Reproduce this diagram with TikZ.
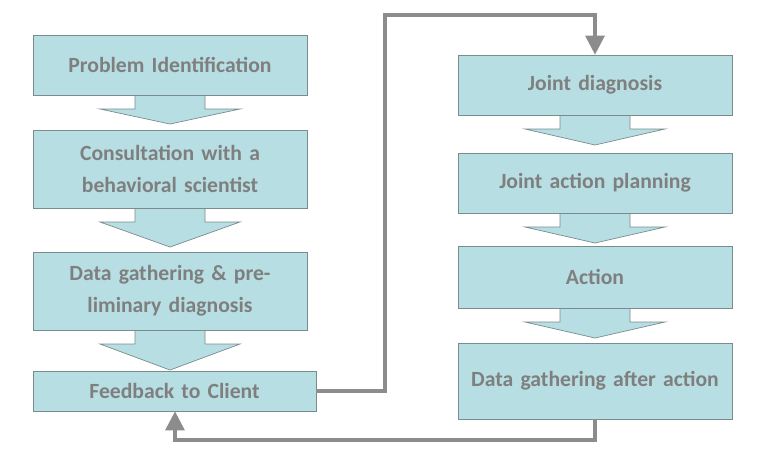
\documentclass[tikz,border=0pt]{standalone}
\usepackage{fontspec}
\setmainfont{Carlito}
\usetikzlibrary{positioning,calc}
\definecolor{boxfill}{HTML}{B7DEE2}
\definecolor{boxline}{HTML}{7A8C8E}
\definecolor{txtgray}{HTML}{7F7F7F}
\definecolor{linkgray}{HTML}{8C8C8C}
\begin{document}
\begin{tikzpicture}[x=0.03cm, y=-0.03cm,
	stage/.style={draw=boxline, fill=boxfill, line width=0.8pt, minimum width=274*0.03cm,
		text width=250*0.03cm, align=center, inner sep=0pt,
		font=\fontsize{18.5}{27}\selectfont\bfseries, text=txtgray},
	link/.style={draw=linkgray, line width=4pt},
	linkhead/.style={fill=linkgray}]
	\useasboundingbox (0,0) rectangle (768,462);

	% ---------------------
	% Chevrons (drawn first, boxes cover their ends)
	\foreach \xc/\yt/\ytip in {170/95/124, 170/208/247, 170/330/370,
	                           595/115/145, 595/213/243, 595/308/338}{
		\filldraw[boxfill, draw=boxline, line width=0.6pt]
			(\xc-35,\yt-2) -- (\xc-35,\yt+14) -- (\xc-70,\yt+14) -- (\xc,\ytip)
			-- (\xc+70,\yt+14) -- (\xc+35,\yt+14) -- (\xc+35,\yt-2);
	}

	% ---------------------
	% Left column
	\node[stage, minimum height=60*0.03cm] (Problem) at (170,65) {Problem Identification};
	\node[stage, minimum height=78*0.03cm] (Consult) at (170,169) {Consultation with a behavioral scientist};
	\node[stage, minimum height=78*0.03cm] (Gather) at (170,291) {Data gathering \& preliminary diagnosis};
	\node[stage, minimum height=40*0.03cm, minimum width=283*0.03cm] (Feedback) at (174.5,391) {Feedback to Client};

	% ---------------------
	% Right column
	\node[stage, minimum height=60*0.03cm] (Diagnosis) at (595,85) {Joint diagnosis};
	\node[stage, minimum height=60*0.03cm] (Planning) at (595,183) {Joint action planning};
	\node[stage, minimum height=62*0.03cm] (Action) at (595,277) {Action};
	\node[stage, minimum height=76*0.03cm] (After) at (595,381) {Data gathering after action};

	% ---------------------
	% Loops between the columns
	\coordinate (UpCorner) at (385,15);
	\coordinate (DownCorner) at (175,440);
	\draw[link] (Feedback.east) -- (UpCorner |- Feedback.east) -- (UpCorner) -- (UpCorner -| Diagnosis) -- ($(Diagnosis.north)+(0,-18)$);
	\fill[linkhead] ($(Diagnosis.north)+(-10,-19)$) -- ($(Diagnosis.north)+(10,-19)$) -- (Diagnosis.north) -- cycle;
	\draw[link] (After.south) -- (After.south |- DownCorner) -- (DownCorner) -- ($(DownCorner |- Feedback.south)+(0,18)$);
	\fill[linkhead] ($(DownCorner |- Feedback.south)+(-10,19)$) -- ($(DownCorner |- Feedback.south)+(10,19)$) -- (DownCorner |- Feedback.south) -- cycle;
\end{tikzpicture}
\end{document}
